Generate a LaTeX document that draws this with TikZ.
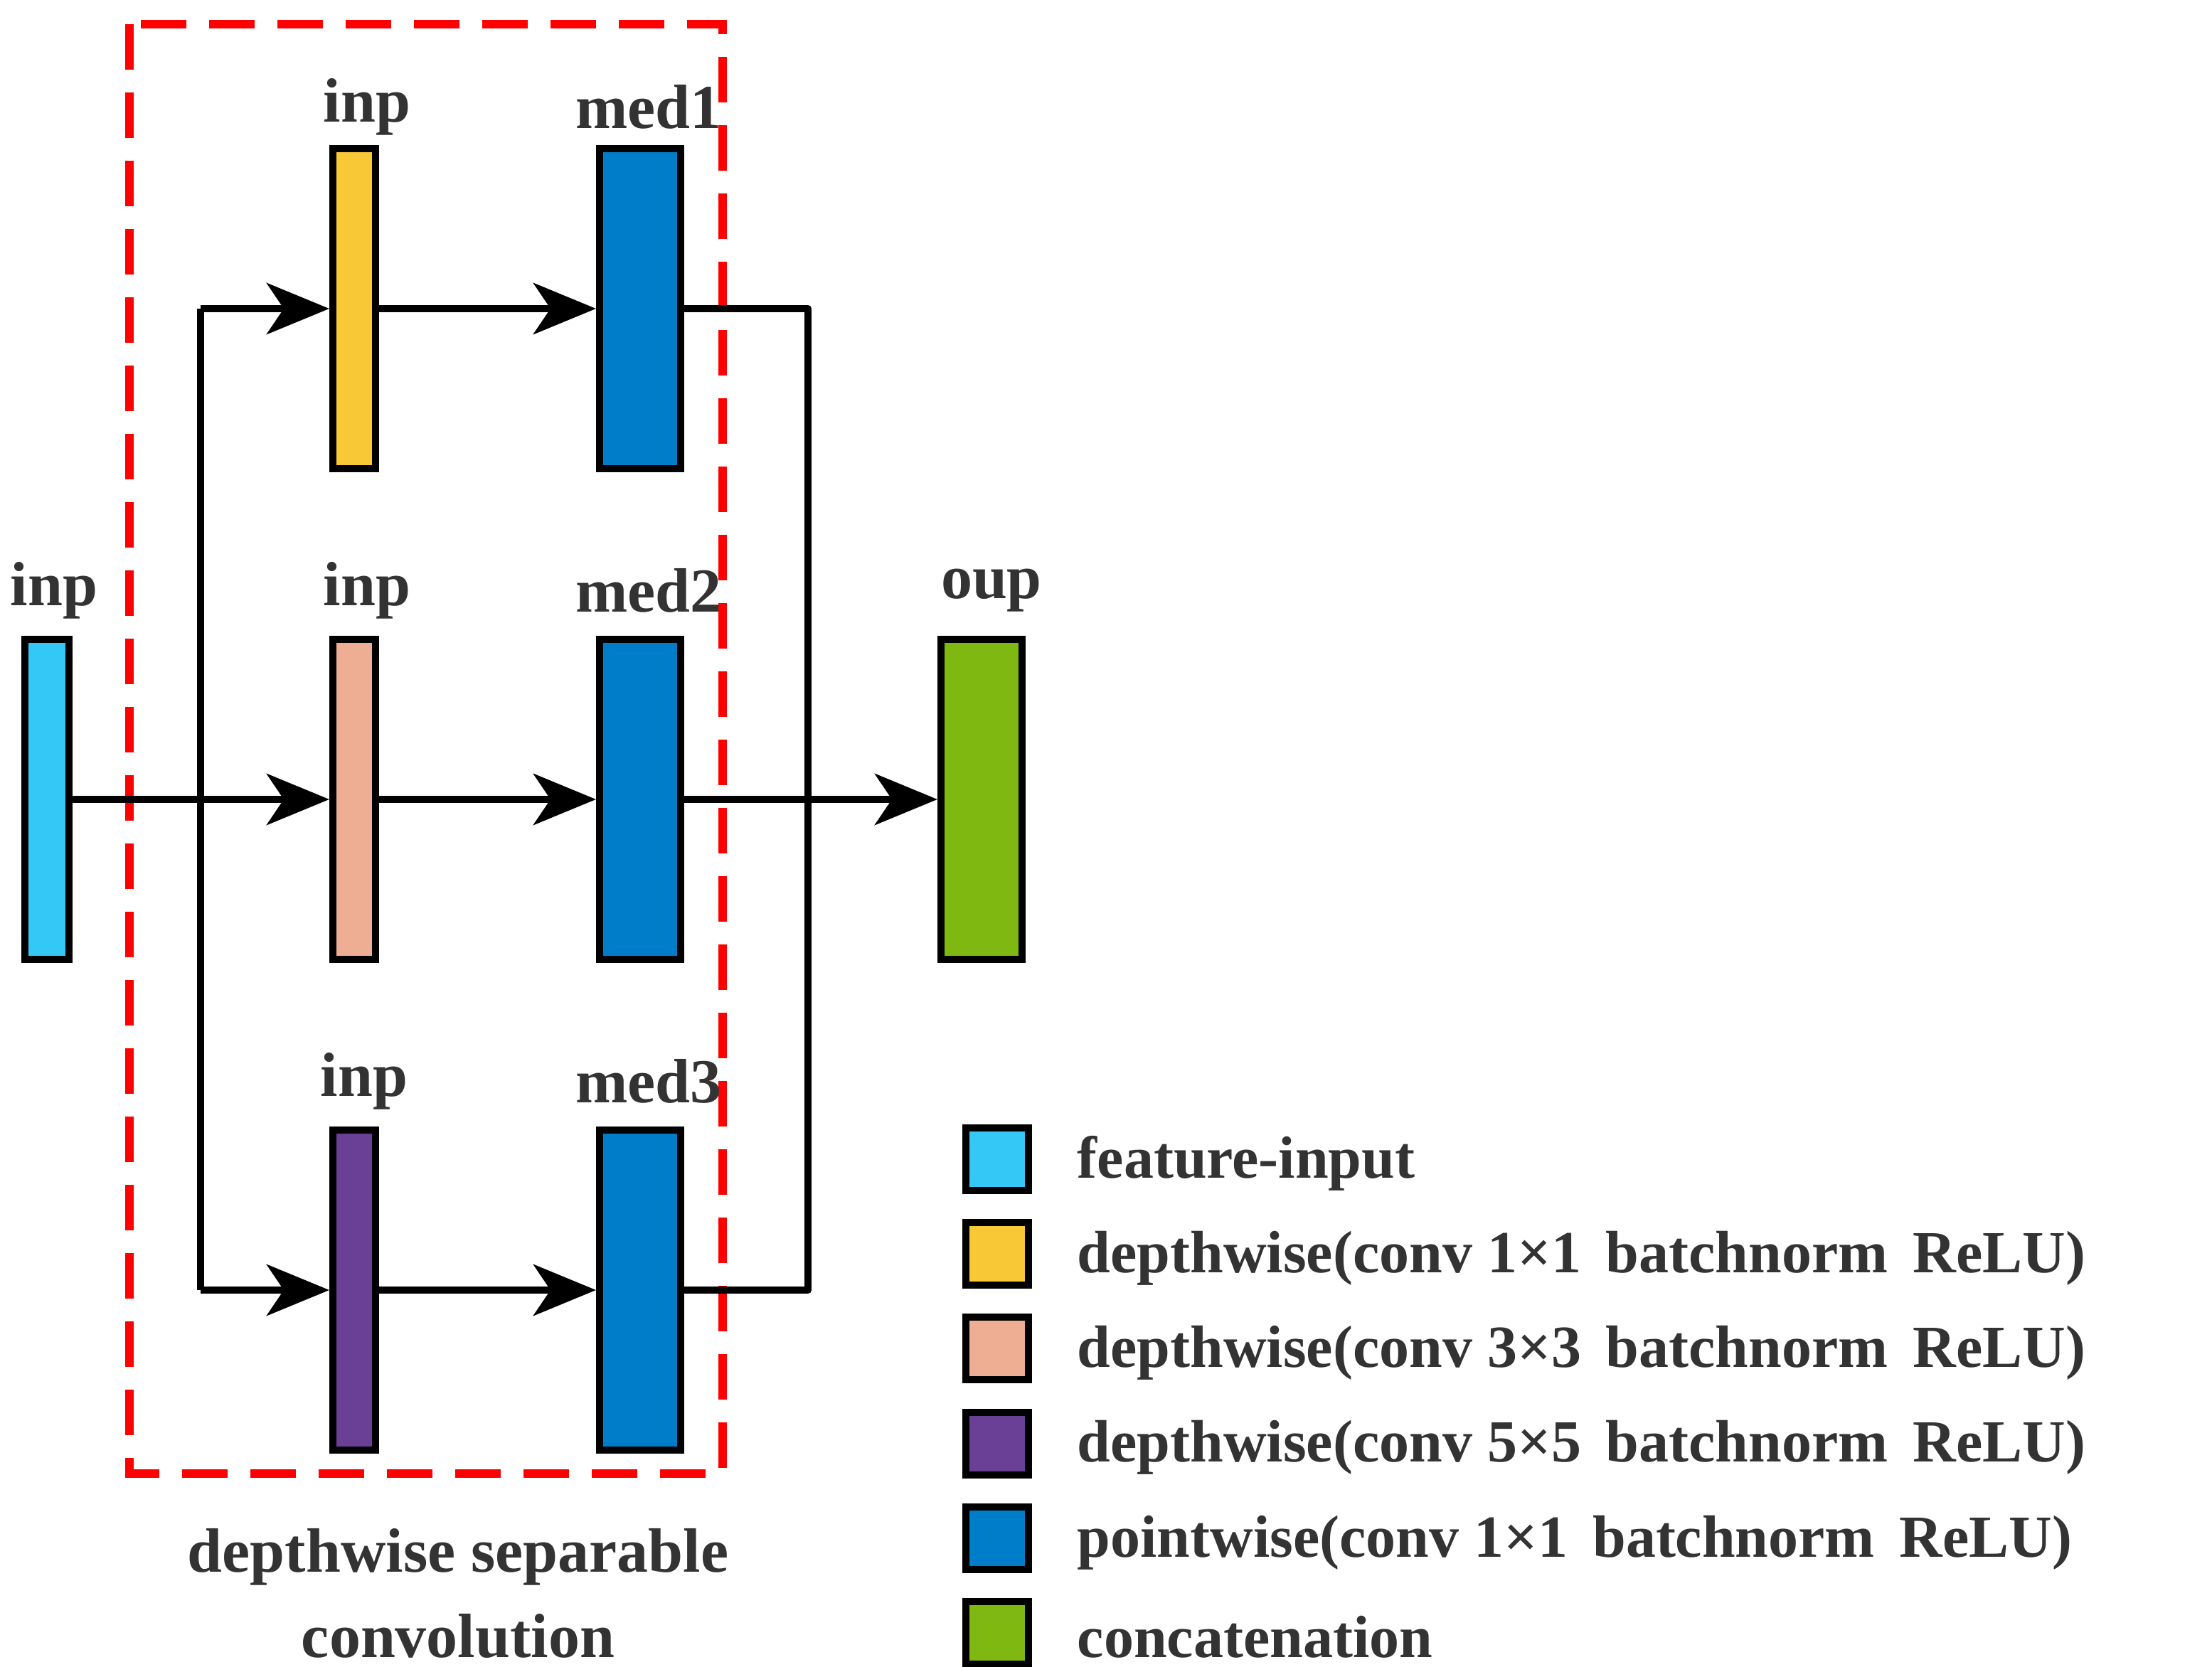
\documentclass[tikz,border=0pt]{standalone}
\usepackage{fontspec}
\setmainfont{Liberation Serif}
\usetikzlibrary{arrows.meta}
\definecolor{cin}{HTML}{33C8F5}
\definecolor{cy}{HTML}{F8C837}
\definecolor{cp}{HTML}{EEAE94}
\definecolor{cv}{HTML}{6A3F96}
\definecolor{cb}{HTML}{007DC8}
\definecolor{cg}{HTML}{80B812}
\definecolor{tx}{HTML}{333333}
\begin{document}
\begin{tikzpicture}[x=0.5pt,y=-0.5pt,
  blk/.style={draw=black,line width=2.5pt,minimum width=#1*0.5pt,minimum height=112.5pt,inner sep=0pt},
  lab/.style={text=tx,font=\fontsize{22}{24}\selectfont\bfseries,inner sep=0pt},
  leg/.style={text=tx,font=\fontsize{21}{24}\selectfont\bfseries,inner sep=0pt,anchor=west},
  sq/.style={draw=black,line width=2.5pt,minimum size=22pt,inner sep=0pt},
  ln/.style={line width=2.5pt,line join=round},
  ar/.style={ln,-{Stealth[length=22pt,width=18pt,inset=6pt]}}]
\useasboundingbox (0,0) rectangle (1555,1172);
\draw[red,line width=3pt,dash pattern=on 16pt off 8pt] (91,17) rectangle (508,1036);
\node[blk=31,fill=cin] (a) at (33,562) {};
\node[blk=30,fill=cy] (y) at (249,217) {};
\node[blk=30,fill=cp] (p) at (249,562) {};
\node[blk=30,fill=cv] (v) at (249,907) {};
\node[blk=57,fill=cb] (b1) at (450,217) {};
\node[blk=57,fill=cb] (b2) at (450,562) {};
\node[blk=57,fill=cb] (b3) at (450,907) {};
\node[blk=57,fill=cg] (g) at (690,562) {};
\node[lab] at (38,415) {inp};
\node[lab] at (258,75) {inp};
\node[lab] at (258,415) {inp};
\node[lab] at (256,760) {inp};
\node[lab] at (456,75) {med1};
\node[lab] at (456,415) {med2};
\node[lab] at (456,760) {med3};
\node[lab] at (697,415) {oup};
\coordinate (l1) at (141,217); \coordinate (l3) at (141,907);
\coordinate (l2) at (141,562);
\coordinate (r1) at (568,217); \coordinate (r3) at (568,907);
\coordinate (r2) at (568,562);
\draw[ln] (a.east) -- (l2);
\draw[ln] (l1) -- (l3);
\draw[ar] (l1) -- (y.west);
\draw[ar] (l2) -- (p.west);
\draw[ar] (l3) -- (v.west);
\draw[ar] (y.east) -- (b1.west);
\draw[ar] (p.east) -- (b2.west);
\draw[ar] (v.east) -- (b3.west);
\draw[ln] (b1.east) -- (r1) -- (r3) -- (b3.east);
\draw[ln] (b2.east) -- (r2);
\draw[ar] (r2) -- (g.west);
\node[lab,align=center] (cap) at (322,1120) {depthwise separable\\[6pt]convolution};
\foreach \c/\t [count=\i] in {cin/feature-input,cy/depthwise(conv 1×1\, batchnorm\, ReLU),cp/depthwise(conv 3×3\, batchnorm\, ReLU),cv/depthwise(conv 5×5\, batchnorm\, ReLU),cb/pointwise(conv 1×1\, batchnorm\, ReLU),cg/concatenation}{
  \node[sq,fill=\c] (s\i) at (701,{815+(\i-1)*66.6}) {};
  \node[leg] (t\i) at (757,{818+(\i-1)*66.6}) {\t};
}
\end{tikzpicture}
\end{document}
